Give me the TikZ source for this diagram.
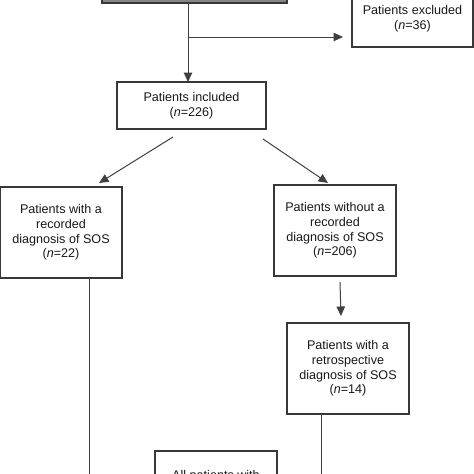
\documentclass[tikz,border=0pt]{standalone}
\usepackage{fontspec}
\setmainfont{Liberation Sans}
\usetikzlibrary{arrows.meta}
\begin{document}
\begin{tikzpicture}[x=1pt,y=-1pt,
  box/.style={draw=black!78, line width=1.1pt, fill=white, inner sep=0pt},
  txt/.style={align=center, font=\fontsize{12.6pt}{14.6pt}\selectfont, text=black!90, inner sep=0pt},
  conn/.style={draw=black!75, line width=1pt},
  arr/.style={conn, -{Triangle[length=9.5pt,width=8.5pt]}}]
\useasboundingbox (0,0) rectangle (474,474);
\fill[white] (0,0) rectangle (474,474);
% boxes
\draw[box, fill=black!48] (102,-30) rectangle (287,3);
\coordinate (topc) at (188,3);
\draw[box] (352,-10) rectangle (473,47);
\node[txt] (excl) at (412.5,18.5) {Patients excluded\\(\textit{n}=36)};
\draw[box] (117,82) rectangle (266,129);
\node[txt] (incl) at (191.5,105.5) {Patients included\\(\textit{n}=226)};
\draw[box] (0,187) rectangle (122,278);
\node[txt] (withrec) at (61,232.5) {Patients with a\\recorded\\diagnosis of SOS\\(\textit{n}=22)};
\draw[box] (274,185) rectangle (396,276);
\node[txt] (without) at (335,230.5) {Patients without a\\recorded\\diagnosis of SOS\\(\textit{n}=206)};
\draw[box] (287,323) rectangle (409,414);
\node[txt] (retro) at (348,368.5) {Patients with a\\retrospective\\diagnosis of SOS\\(\textit{n}=14)};
\draw[box] (155,451) rectangle (277,520);
\node[txt, anchor=base] (all) at (216,479) {All patients with};
% named coordinates for connectors
\coordinate (inclTop) at (188,82);
\coordinate (branch) at (188,37);
\coordinate (exclL) at (351,37);
\coordinate (d1s) at (173,137);
\coordinate (d1e) at (99,183);
\coordinate (d2s) at (263,139);
\coordinate (d2e) at (328,183);
\coordinate (d3s) at (340,282);
\coordinate (d3e) at (341,316);
\coordinate (l1s) at (89,278);
\coordinate (l1e) at (89,480);
\coordinate (l2s) at (321,414);
\coordinate (l2e) at (321,480);
% connectors
\draw[arr] (topc) -- (inclTop);
\draw[arr] (branch) -- ([xshift=-8pt]exclL);
\draw[arr] (d1s) -- (d1e);
\draw[arr] (d2s) -- (d2e);
\draw[arr] (d3s) -- (d3e);
\draw[conn] (l1s) -- (l1e);
\draw[conn] (l2s) -- (l2e);
\end{tikzpicture}
\end{document}
